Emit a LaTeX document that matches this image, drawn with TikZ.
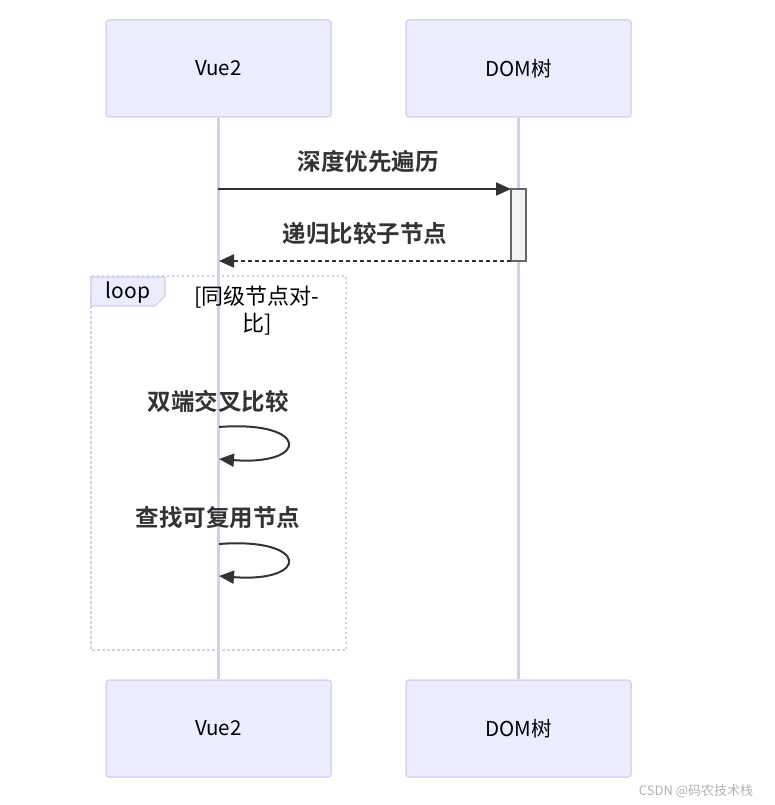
\documentclass[tikz,border=0pt]{standalone}
\usepackage{fontspec}
\setmainfont{Noto Sans CJK SC}[BoldFont={Noto Sans CJK SC Bold}]
\usetikzlibrary{arrows.meta}
\definecolor{actfill}{HTML}{ECECFF}
\definecolor{actline}{HTML}{D9D3F2}
\definecolor{life}{HTML}{D4CEEC}
\definecolor{msg}{HTML}{333333}
\tikzset{
  actor/.style={draw=actline, fill=actfill, line width=1.5pt, rounded corners=3pt,
    minimum width=225pt, minimum height=97pt, inner sep=0pt, font=\fontsize{20.5}{24}\selectfont},
  lifeline/.style={draw=life, line width=2.5pt},
  msgtext/.style={font=\bfseries\fontsize{23.5}{27}\selectfont, text=msg, inner sep=0pt},
  msgline/.style={draw=msg, line width=2pt, -{Triangle[length=15pt,width=13pt]}},
  loopline/.style={draw=life, line width=2.5pt, dash pattern=on 2.5pt off 2.5pt},
}
\begin{document}
\begin{tikzpicture}[x=1pt,y=-1pt]
\useasboundingbox (0,0) rectangle (774,805);
% actors
\node[actor] (vtop) at (218.5,68.5) {Vue2};
\node[actor] (dtop) at (518.5,68.5) {DOM树};
\node[actor] (vbot) at (218.5,728.5) {Vue2};
\node[actor] (dbot) at (518.5,728.5) {DOM树};
% lifelines
\draw[lifeline] (vtop.south) -- (vbot.north);
\draw[lifeline] (dtop.south) -- (dbot.north);
% loop frame
\draw[loopline] (91,276) rectangle (346,650);
\draw[draw=life, fill=actfill, line width=1.2pt] (91,277) -- (165,277) -- (165,296) -- (155,306) -- (91,306) -- cycle;
\node[font=\fontsize{21}{24}\selectfont, inner sep=0pt] (looplbl) at (128,293) {loop};
\node[font=\fontsize{22}{27}\selectfont, inner sep=0pt, align=center] (loopcond) at (257,311) {[同级节点对-\\比]};
% activation
\node[draw=black!60, fill=black!5, line width=1.2pt, minimum width=15pt, minimum height=72pt, inner sep=0pt] (act) at (518.5,225) {};
% message 1
\coordinate (m1s) at (218,189);
\coordinate (m1e) at (511,189);
\node[msgtext] (t1) at (368,162) {深度优先遍历};
\draw[msgline] (m1s) -- (m1e);
% message 2
\coordinate (m2s) at (511,261);
\coordinate (m2e) at (219,261);
\node[msgtext] (t2) at (365,234) {递归比较子节点};
\draw[msgline, dash pattern=on 4pt off 3pt] (m2s) -- (m2e);
% self message 1
\node[msgtext] (t3) at (218,401) {双端交叉比较};
\coordinate (s1a) at (219,427);
\coordinate (s1b) at (219,459);
\draw[msgline] (s1a) .. controls (310,420) and (310,466) .. (s1b);
% self message 2
\node[msgtext] (t4) at (218,518) {查找可复用节点};
\coordinate (s2a) at (219,544);
\coordinate (s2b) at (219,576);
\draw[msgline] (s2a) .. controls (310,537) and (310,583) .. (s2b);
% watermark
\node[text=black!30, font=\fontsize{13}{15}\selectfont, inner sep=0pt] (wm) at (696,791) {CSDN @码农技术栈};
\end{tikzpicture}
\end{document}
